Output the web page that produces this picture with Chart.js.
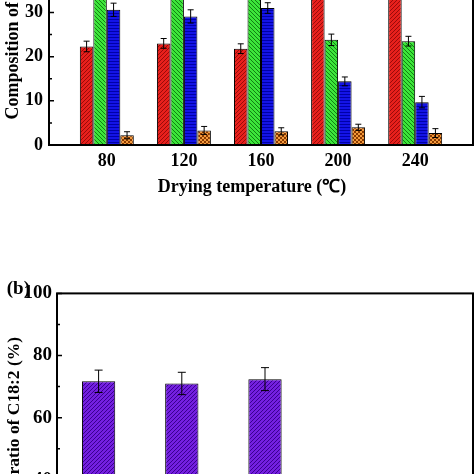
<!DOCTYPE html>
<html>
<head>
<meta charset="utf-8">
<script src="https://cdn.jsdelivr.net/npm/chart.js@4.4.1/dist/chart.umd.min.js"></script>
<style>
html,body{margin:0;padding:0;width:474px;height:474px;overflow:hidden;background:#fff;}
#ca{position:absolute;left:0;top:-159px;}
#cb{position:absolute;left:0;top:277px;}
#lab{position:absolute;left:0;top:277px;width:30px;text-align:right;font:bold 19px "Liberation Serif",serif;line-height:22px;color:#000;}
</style>
</head>
<body>
<canvas id="ca" width="474" height="357"></canvas>
<canvas id="cb" width="474" height="382"></canvas>
<div id="lab">(b)</div>
<script>
// ---- data ----
const temps = [80, 120, 160, 200, 240];
const palmitic = [22.3, 23.0, 21.8, 55.0, 60.0];
const palmiticErr = [1.2, 1.1, 1.1, 1.5, 1.5];
const oleic = [40.0, 41.0, 41.0, 23.8, 23.5];
const oleicErr = [1.5, 1.5, 1.5, 1.3, 1.1];
const linoleic = [30.6, 29.1, 31.0, 14.4, 9.7];
const linoleicErr = [1.5, 1.5, 1.2, 1.0, 1.3];
const linolenic = [2.2, 3.3, 3.1, 4.0, 2.7];
const linolenicErr = [0.8, 0.9, 0.8, 0.7, 1.0];
const ratioTemps = [80, 120, 160];
const ratioC182 = [71.7, 71.0, 72.4];
const ratioErr = [3.6, 3.6, 3.7];
const yTicksA = [0, 10, 20, 30, 40, 50, 60];
const yTicksB = [0, 20, 40, 60, 80, 100];

// ---- styles ----
function hatch(bg, fg, kind, s, lw) {
  const c = document.createElement('canvas');
  c.width = s; c.height = s;
  const g = c.getContext('2d');
  g.fillStyle = bg; g.fillRect(0, 0, s, s);
  g.strokeStyle = fg; g.fillStyle = fg; g.lineWidth = lw;
  g.beginPath();
  if (kind === '/') {
    g.moveTo(0, s); g.lineTo(s, 0);
    g.moveTo(-1, 1); g.lineTo(1, -1);
    g.moveTo(s - 1, s + 1); g.lineTo(s + 1, s - 1);
    g.stroke();
  } else if (kind === '\\') {
    g.moveTo(0, 0); g.lineTo(s, s);
    g.moveTo(-1, s - 1); g.lineTo(1, s + 1);
    g.moveTo(s - 1, -1); g.lineTo(s + 1, 1);
    g.stroke();
  } else if (kind === '-') {
    g.moveTo(0, s / 2); g.lineTo(s, s / 2);
    g.stroke();
  } else if (kind === '#') {
    g.fillRect(0, 0, s / 2, s / 2);
    g.fillRect(s / 2, s / 2, s / 2, s / 2);
  }
  return g.createPattern(c, 'repeat');
}
const FONT = 'Liberation Serif';

const frameAndErr = {
  id: 'frameAndErr',
  afterDatasetsDraw(chart) {
    const ctx = chart.ctx;
    const ca = chart.chartArea;
    const ys = chart.scales.y;
    ctx.save();
    // error bars
    chart.data.datasets.forEach((ds, i) => {
      const meta = chart.getDatasetMeta(i);
      meta.data.forEach((el, j) => {
        const v = ds.data[j].y, e = ds.errors[j];
        if (v == null || e == null) return;
        const x = el.x;
        const yt = ys.getPixelForValue(v + e), yb = ys.getPixelForValue(v - e);
        const cw = chart.options.capW || 3;
        ctx.strokeStyle = '#000'; ctx.lineWidth = 1;
        ctx.beginPath();
        ctx.moveTo(x, yt); ctx.lineTo(x, yb);
        ctx.moveTo(x - cw, yt); ctx.lineTo(x + cw, yt);
        ctx.moveTo(x - cw, yb); ctx.lineTo(x + cw, yb);
        ctx.stroke();
      });
    });
    // frame
    ctx.strokeStyle = '#000'; ctx.lineWidth = 2;
    ctx.strokeRect(ca.left, ca.top, ca.right - ca.left, ca.bottom - ca.top);
    // inward y ticks
    ctx.lineWidth = 1.5;
    const tk = ys.ticks.map(t => t.value);
    ctx.beginPath();
    tk.forEach((v, k) => {
      const p = ys.getPixelForValue(v);
      ctx.moveTo(ca.left, p); ctx.lineTo(ca.left + 5, p);
      if (k < tk.length - 1) {
        const m = ys.getPixelForValue((v + tk[k + 1]) / 2);
        ctx.moveTo(ca.left, m); ctx.lineTo(ca.left + 3, m);
      }
    });
    ctx.stroke();
    ctx.restore();
  }
};

function makeChart(id, datasets, opts) {
  return new Chart(document.getElementById(id), {
    type: 'bar',
    data: { datasets },
    options: {
      responsive: false,
      animation: false,
      capW: opts.capW,
      layout: { padding: { top: opts.padTop, right: 1, left: 0, bottom: 0 } },
      plugins: { legend: { display: false }, tooltip: { enabled: false } },
      datasets: { bar: { categoryPercentage: opts.catPct, barPercentage: 1, borderColor: '#000', borderWidth: 1 } },
      scales: {
        x: {
          type: 'linear', min: opts.xMin, max: opts.xMax, offset: false,
          grid: { display: false, drawTicks: false, offset: false }, border: { display: false },
          afterBuildTicks: s => { s.ticks = temps.map(v => ({ value: v })); },
          afterFit: s => { s.height = opts.xH; },
          ticks: { padding: opts.xPad, color: '#000', font: { family: FONT, weight: 'bold', size: opts.tickSize }, callback: v => String(v) },
          title: { display: true, text: opts.xTitle, color: '#000', padding: 0, font: { family: FONT, weight: 'bold', size: opts.titleSize } }
        },
        y: {
          min: 0, max: opts.yMax,
          grid: { display: false, drawTicks: false }, border: { display: false },
          afterBuildTicks: s => { s.ticks = opts.yTicks.map(v => ({ value: v })); },
          afterFit: s => { s.width = opts.yW; },
          ticks: { padding: opts.yPad, color: '#000', font: { family: FONT, weight: 'bold', size: opts.tickSize } },
          title: { display: true, text: opts.yTitle, color: '#000', padding: { top: opts.yTitlePad, bottom: 0 }, font: { family: FONT, weight: 'bold', size: opts.titleSize } }
        }
      }
    },
    plugins: [frameAndErr]
  });
}

const pts = (xs, ys) => xs.map((x, i) => ({ x: x, y: ys[i] }));

makeChart('ca', [
  { data: pts(temps, palmitic), errors: palmiticErr, backgroundColor: hatch('#e8201c', '#9a0a0a', '/', 4, 1) },
  { data: pts(temps, oleic), errors: oleicErr, backgroundColor: hatch('#3ce63a', '#128012', '\\', 4, 1) },
  { data: pts(temps, linoleic), errors: linoleicErr, backgroundColor: hatch('#1414e6', '#0000a8', '-', 3, 1) },
  { data: pts(temps, linolenic), errors: linolenicErr, backgroundColor: hatch('#f29a3c', '#8a3a00', '#', 4, 1) }
], {
  padTop: 10, catPct: 0.70, xMin: 50, xMax: 270, xH: 53, xPad: 6, yMax: 65, yTicks: yTicksA,
  yW: 49, yPad: 6, yTitlePad: 3, tickSize: 18, titleSize: 18, capW: 3,
  xTitle: 'Drying temperature (\u2103)\u2003', yTitle: 'Composition of fatty acids (%)'
});

makeChart('cb', [
  { data: pts(ratioTemps, ratioC182), errors: ratioErr, backgroundColor: hatch('#7420e0', '#3a0090', '/', 4, 1) }
], {
  padTop: 12, catPct: 0.40, xMin: 60, xMax: 260, xH: 55, xPad: 6, yMax: 100, yTicks: yTicksB,
  yW: 57, yPad: 5, yTitlePad: 4, tickSize: 19, titleSize: 17.5, capW: 4,
  xTitle: 'Drying temperature (\u2103)', yTitle: 'Remaining ratio of C18:2 (%)'
});
</script>
</body>
</html>
